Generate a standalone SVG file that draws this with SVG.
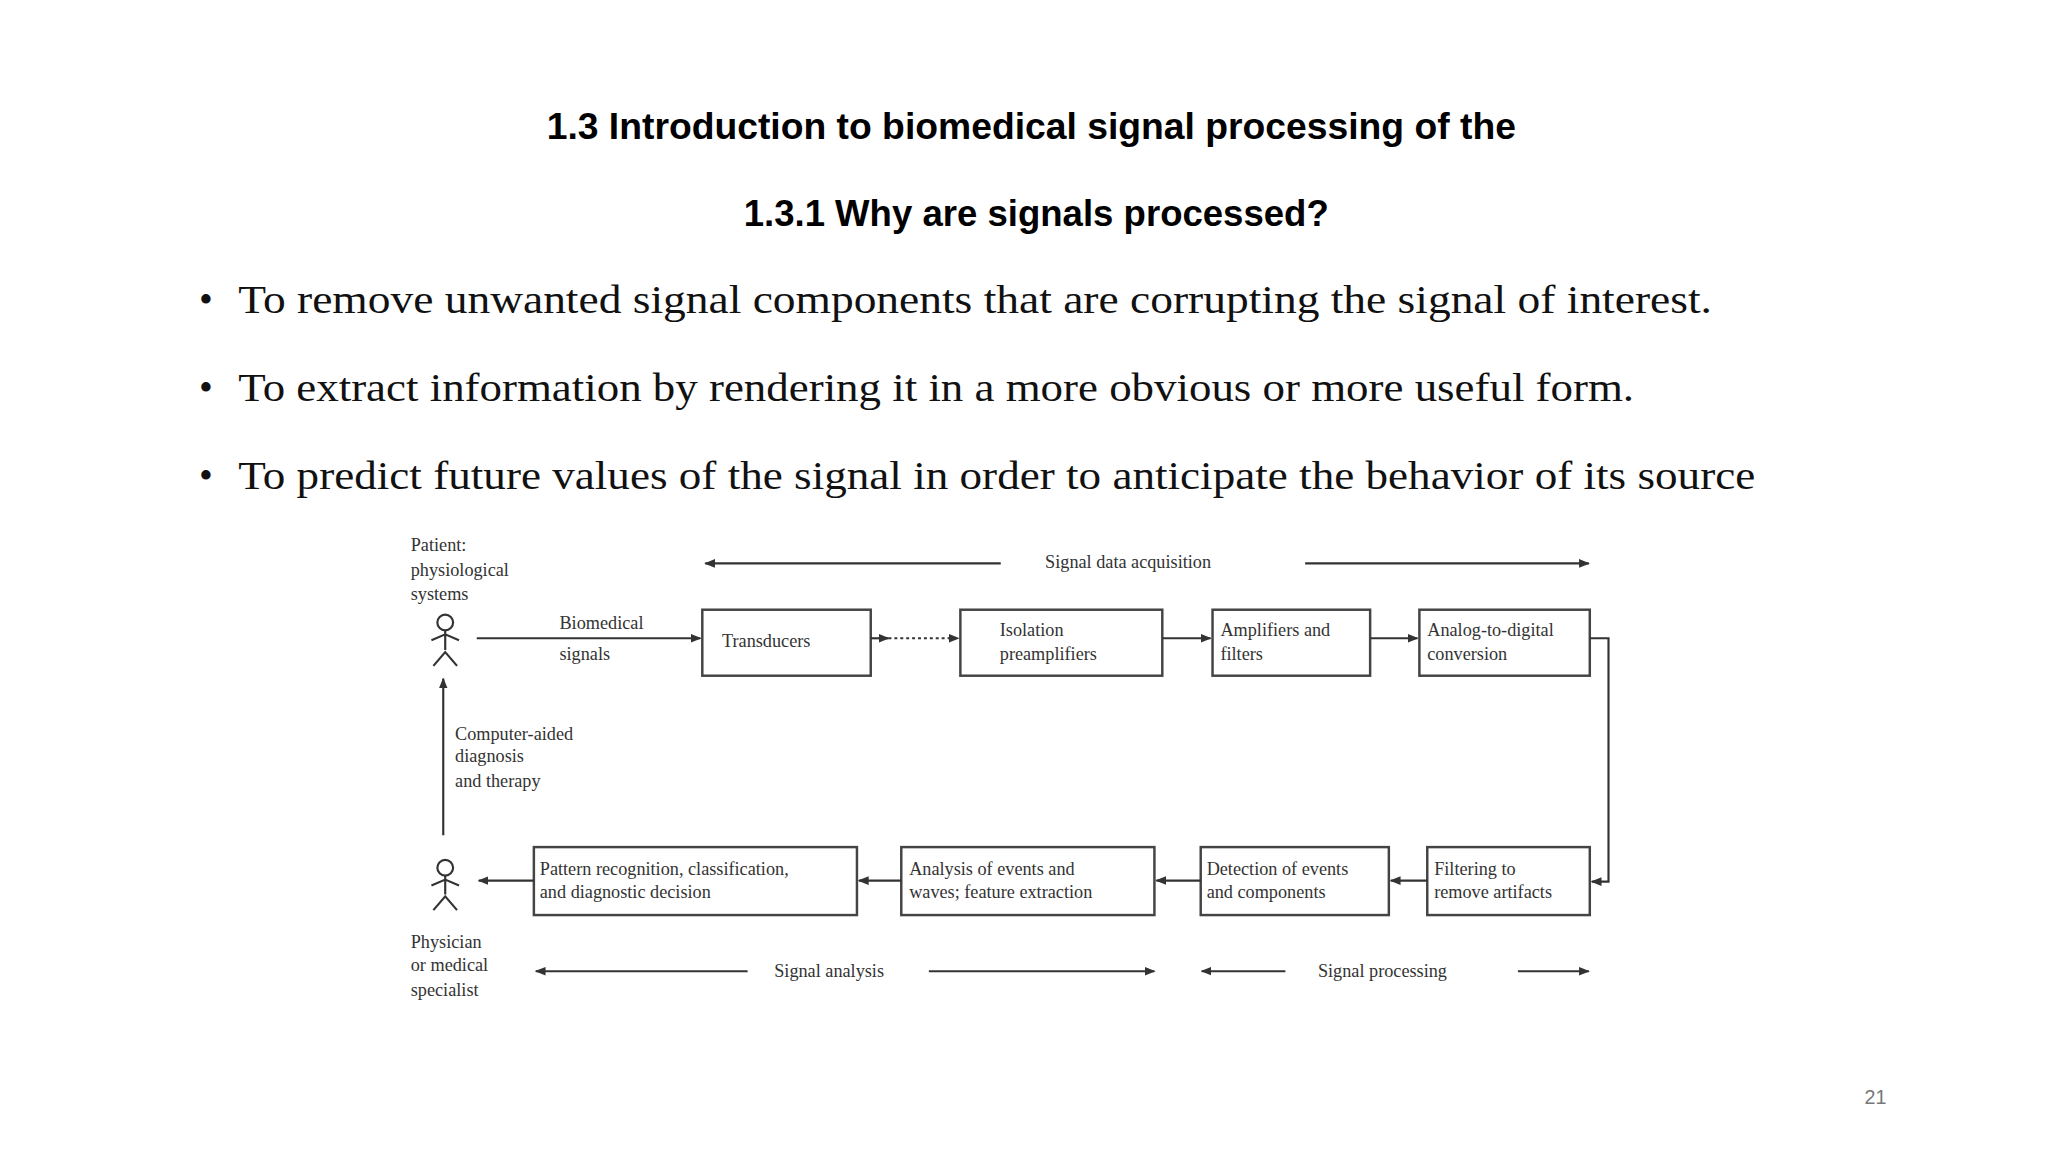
<svg xmlns="http://www.w3.org/2000/svg" width="2048" height="1152" viewBox="0 0 2048 1152">
<style>
.t{font-family:"Liberation Sans",Arial,sans-serif;font-weight:bold;font-size:38px;fill:#000;text-anchor:middle}
.b{font-family:"Liberation Serif","Times New Roman",serif;font-size:40px;fill:#111}
.d{font-family:"Liberation Serif","Times New Roman",serif;font-size:18.5px;fill:#333}
.box{fill:#fff;stroke:#444;stroke-width:2.5}
.ln{stroke:#333;stroke-width:2.2;fill:none}
</style>
<defs>
<marker id="ah" viewBox="0 0 10 10" refX="9" refY="5" markerWidth="5" markerHeight="5" orient="auto-start-reverse"><path d="M0,1 L10,5 L0,9 z" fill="#333"/></marker>
</defs>
<rect width="2048" height="1152" fill="#fff"/>
<g transform="scale(0.985)">
<text class="t" x="1047" y="141" textLength="984" lengthAdjust="spacingAndGlyphs">1.3 Introduction to biomedical signal processing of the</text>
<text class="t" x="1052" y="229" textLength="594" lengthAdjust="spacingAndGlyphs">1.3.1 Why are signals processed?</text>
<g class="b">
<text x="202" y="318">•</text><text x="242" y="318" textLength="1496" lengthAdjust="spacingAndGlyphs">To remove unwanted signal components that are corrupting the signal of interest.</text>
<text x="202" y="407">•</text><text x="242" y="407" textLength="1417" lengthAdjust="spacingAndGlyphs">To extract information by rendering it in a more obvious or more useful form.</text>
<text x="202" y="496">•</text><text x="242" y="496" textLength="1540" lengthAdjust="spacingAndGlyphs">To predict future values of the signal in order to anticipate the behavior of its source</text>
</g>
<g id="patient">
<text class="d" x="417" y="559">Patient:</text><text class="d" x="417" y="585">physiological</text><text class="d" x="417" y="609">systems</text>
<g class="ln"><circle cx="452" cy="632" r="8"/><path d="M452,640 V660 M438,650 L452,644 L466,650 M440,676 L452,662 L464,676"/></g>
</g>
<g id="physician">
<g class="ln"><circle cx="452" cy="881" r="8"/><path d="M452,889 V908 M438,899 L452,893 L466,899 M440,924 L452,910 L464,924"/></g>
<text class="d" x="417" y="962">Physician</text><text class="d" x="417" y="986">or medical</text><text class="d" x="417" y="1011">specialist</text>
</g>
<g id="transducers"><rect class="box" x="713" y="619" width="171" height="67"/><text class="d" x="733" y="657">Transducers</text></g>
<g id="isolation"><rect class="box" x="975" y="619" width="205" height="67"/><text class="d" x="1015" y="646">Isolation</text><text class="d" x="1015" y="670">preamplifiers</text></g>
<g id="amplifiers"><rect class="box" x="1231" y="619" width="160" height="67"/><text class="d" x="1239" y="646">Amplifiers and</text><text class="d" x="1239" y="670">filters</text></g>
<g id="adc"><rect class="box" x="1441" y="619" width="173" height="67"/><text class="d" x="1449" y="646">Analog-to-digital</text><text class="d" x="1449" y="670">conversion</text></g>
<g id="filtering"><rect class="box" x="1449" y="860" width="165" height="69"/><text class="d" x="1456" y="888">Filtering to</text><text class="d" x="1456" y="912">remove artifacts</text></g>
<g id="detection"><rect class="box" x="1219" y="860" width="191" height="69"/><text class="d" x="1225" y="888">Detection of events</text><text class="d" x="1225" y="912">and components</text></g>
<g id="analysis"><rect class="box" x="915" y="860" width="257" height="69"/><text class="d" x="923" y="888">Analysis of events and</text><text class="d" x="923" y="912">waves; feature extraction</text></g>
<g id="pattern"><rect class="box" x="542" y="860" width="328" height="69"/><text class="d" x="548" y="888">Pattern recognition, classification,</text><text class="d" x="548" y="912">and diagnostic decision</text></g>
<g id="connectors" class="ln">
<path d="M1016,572 H716" marker-end="url(#ah)"/>
<path d="M1325,572 H1613" marker-end="url(#ah)"/>
<path d="M484,648 H711" marker-end="url(#ah)"/>
<path d="M884,648 H902" marker-end="url(#ah)"/>
<path d="M902,648 H973" stroke-dasharray="3,3" marker-end="url(#ah)"/>
<path d="M1180,648 H1229" marker-end="url(#ah)"/>
<path d="M1391,648 H1439" marker-end="url(#ah)"/>
<path d="M1614,648 H1633 V895 H1616" marker-end="url(#ah)"/>
<path d="M1449,894 H1412" marker-end="url(#ah)"/>
<path d="M1219,894 H1174" marker-end="url(#ah)"/>
<path d="M915,894 H872" marker-end="url(#ah)"/>
<path d="M542,894 H486" marker-end="url(#ah)"/>
<path d="M450,848 V689" marker-end="url(#ah)"/>
<path d="M759,986 H544" marker-end="url(#ah)"/>
<path d="M943,986 H1172" marker-end="url(#ah)"/>
<path d="M1305,986 H1220" marker-end="url(#ah)"/>
<path d="M1541,986 H1613" marker-end="url(#ah)"/>
</g>
<text class="d" x="1061" y="577">Signal data acquisition</text>
<text class="d" x="568" y="639">Biomedical</text><text class="d" x="568" y="670">signals</text>
<text class="d" x="462" y="751">Computer-aided</text><text class="d" x="462" y="774">diagnosis</text><text class="d" x="462" y="799">and therapy</text>
<text class="d" x="786" y="992">Signal analysis</text>
<text class="d" x="1338" y="992">Signal processing</text>
<text x="1904" y="1121" style="font-family:'Liberation Sans',Arial,sans-serif;font-size:20px;fill:#777;text-anchor:middle">21</text>
</g>
</svg>
